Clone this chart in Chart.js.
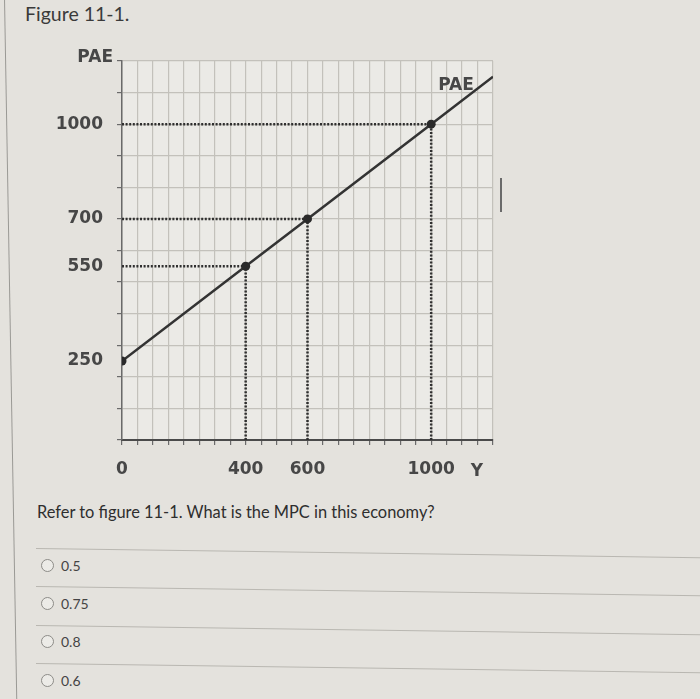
<!DOCTYPE html>
<html>
<head>
<meta charset="utf-8">
<script src="https://cdn.jsdelivr.net/npm/chart.js@4"></script>
<style>
  html, body { margin: 0; padding: 0; }
  body { width: 700px; height: 699px; background: #e4e2dd; position: relative; overflow: hidden; font-family: Lato, sans-serif; color: #333; }
  .frame { position: absolute; left: 4px; top: -2px; width: 1px; height: 710px; background: #9a9995; transform: rotate(-1deg); transform-origin: top left; }
  .fig { position: absolute; left: 25px; top: 2px; font-size: 19.5px; color: #3a3a3a; }
  .wrap { position: absolute; left: 0; top: 0; width: 520px; height: 490px; }
  .q { position: absolute; left: 37px; top: 502px; font-size: 16.4px; color: #2e2e2e; }
  .sep { position: absolute; left: 36px; width: 680px; height: 1px; background: #b9b7b1; transform: rotate(0.8deg); transform-origin: left center; }
  .opt { position: absolute; left: 41px; font-size: 14px; color: #444; display: flex; align-items: center; }
  .opt span.r { width: 11px; height: 11px; border: 1px solid #8d8c88; border-radius: 50%; margin-right: 7px; background: #ecebe7; }
  .mark { position: absolute; left: 500px; top: 178px; width: 2px; height: 34px; background: #6a6a6a; }
</style>
</head>
<body>
<div class="frame"></div>
<div class="fig">Figure 11-1.</div>
<div class="wrap"><canvas id="pae"></canvas></div>
<div class="mark"></div>
<div class="q">Refer to figure 11-1. What is the MPC in this economy?</div>
<div id="opts"></div>
<script>
// line data: income Y vs planned aggregate expenditure
const incomeY = [0, 400, 600, 1000, 1200];
const plannedPAE = [250, 550, 700, 1000, 1150];
const markedCount = 4;            // points with a dot

// dotted guides
const guideX = [400, 600, 1000];
const guideY = [550, 700, 1000];

// axis ticks
const xTickLabels = [0, 400, 600, 1000];
const yTickLabels = [250, 550, 700, 1000];
const xGridStep = 50, yGridStep = 100, axisMax = 1200;

const answers = ['0.5', '0.75', '0.8', '0.6'];

// options list
const opts = document.getElementById('opts');
const sepTops = [548, 586, 625, 663];
const optTops = [557, 595, 633, 672];
answers.forEach((a, i) => {
  opts.insertAdjacentHTML('beforeend',
    `<div class="sep" style="top:${sepTops[i]}px"></div>` +
    `<div class="opt" style="top:${optTops[i]}px"><span class="r"></span>${a}</div>`);
});

const gridVals = (step) => {
  const v = [];
  for (let t = 0; t <= axisMax; t += step) v.push(t);
  return v;
};

const xTicks = gridVals(xGridStep);
const yTicks = [...new Set([...gridVals(yGridStep), ...yTickLabels])].sort((a, b) => a - b);

const guideSets = [];
guideX.forEach(x => {
  const y = plannedPAE[incomeY.indexOf(x)];
  guideSets.push({ type: 'line', data: [{ x, y: 0 }, { x, y }] });
});
guideY.forEach(y => {
  const x = incomeY[plannedPAE.indexOf(y)];
  guideSets.push({ type: 'line', data: [{ x: 0, y }, { x, y }] });
});

const onGrid = (v, step) => v % step === 0;
const labelFont = { family: 'DejaVu Sans', size: 17, weight: 'bold' };

// background + text labels
const extras = {
  id: 'extras',
  beforeDraw(chart) {
    const { ctx, chartArea: a } = chart;
    ctx.save();
    ctx.fillStyle = '#ebeae6';
    ctx.fillRect(a.left, a.top, a.right - a.left, a.bottom - a.top);
    ctx.restore();
  },
  afterDraw(chart) {
    const { ctx, chartArea: a, scales } = chart;
    ctx.save();
    ctx.font = 'bold 17px "DejaVu Sans"';
    ctx.fillStyle = '#474747';
    ctx.textBaseline = 'middle';
    ctx.textAlign = 'right';
    ctx.fillText('PAE', a.left - 9, a.top - 3);
    ctx.textAlign = 'center';
    ctx.fillText('Y', a.right - 16, a.bottom + 32);
    const n = incomeY.length - 1;
    const ex = scales.x.getPixelForValue(incomeY[n]);
    const ey = scales.y.getPixelForValue(plannedPAE[n]);
    ctx.fillText('PAE', ex - 37, ey + 9);
    ctx.restore();
  }
};

new Chart(document.getElementById('pae'), {
  type: 'line',
  data: {
    datasets: [
      {
        data: incomeY.map((x, i) => ({ x, y: plannedPAE[i] })),
        borderColor: '#333',
        borderWidth: 2.5,
        pointRadius: ctx => ctx.dataIndex < markedCount ? 4.5 : 0,
        pointBackgroundColor: '#2a2a2a',
        pointBorderWidth: 0,
        order: 0
      },
      ...guideSets.map(g => ({
        ...g,
        borderColor: '#2f2f2f',
        borderWidth: 2.5,
        borderDash: [2, 1.6],
        pointRadius: 0,
        order: 1
      }))
    ]
  },
  options: {
    responsive: true,
    maintainAspectRatio: false,
    animation: false,
    layout: { padding: { left: 0, top: 61, right: 27, bottom: 0 } },
    plugins: { legend: { display: false }, tooltip: { enabled: false } },
    scales: {
      x: {
        type: 'linear',
        min: 0, max: axisMax,
        afterBuildTicks: s => { s.ticks = xTicks.map(value => ({ value })); },
        afterFit: s => { s.height = 50; s.paddingLeft = 0; s.paddingRight = 0; },
        ticks: {
          padding: 14,
          autoSkip: false,
          maxRotation: 0,
          color: '#474747',
          font: labelFont,
          callback: v => xTickLabels.includes(v) ? String(v) : ''
        },
        grid: { color: '#c3c1bb', lineWidth: 1.2, tickLength: 5, tickColor: '#6b6b6b' },
        border: { color: '#4a4a4a', width: 2 }
      },
      y: {
        type: 'linear',
        min: 0, max: axisMax,
        afterBuildTicks: s => { s.ticks = yTicks.map(value => ({ value })); },
        afterFit: s => { s.width = 122; s.paddingTop = 0; s.paddingBottom = 0; },
        ticks: {
          padding: 14,
          autoSkip: false,
          color: '#474747',
          font: labelFont,
          callback: v => yTickLabels.includes(v) ? String(v) : ''
        },
        grid: {
          color: c => (c.tick && onGrid(c.tick.value, yGridStep)) ? '#c3c1bb' : 'rgba(0,0,0,0)',
          tickColor: c => (c.tick && onGrid(c.tick.value, yGridStep)) ? '#6b6b6b' : 'rgba(0,0,0,0)',
          lineWidth: 1.2,
          tickLength: 5
        },
        border: { color: '#6a6a6a', width: 1.5 }
      }
    }
  },
  plugins: [extras]
});
</script>
</body>
</html>
